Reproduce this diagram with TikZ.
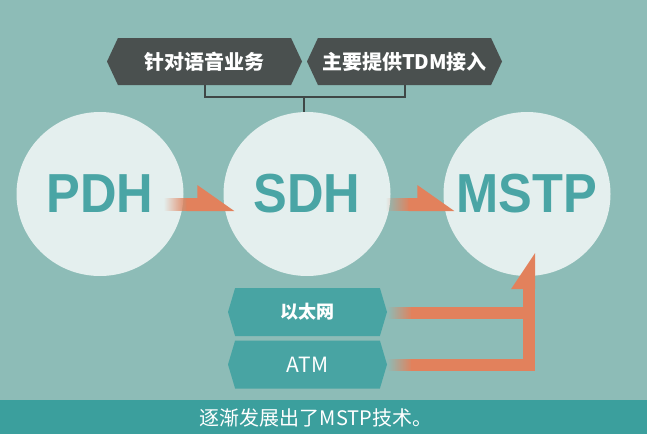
\documentclass[tikz,border=0pt]{standalone}
\usepackage{fontspec}
\newfontfamily\cjk{Noto Sans CJK SC}
\newfontfamily\bigsans{Liberation Sans}[FakeStretch=0.92]
\usetikzlibrary{shapes.symbols,shapes.geometric,fadings,calc}

\definecolor{bgteal}{HTML}{8DBCB7}
\definecolor{bandteal}{HTML}{3B9F9D}
\definecolor{darkbox}{HTML}{4A504F}
\definecolor{tealbox}{HTML}{48A4A3}
\definecolor{ballfill}{HTML}{E4EFEE}
\definecolor{balltext}{HTML}{4AA5A5}
\definecolor{orangebar}{HTML}{E2815C}
\definecolor{linkgray}{HTML}{3F4746}

\tikzfading[name=fadein, left color=transparent!100, right color=transparent!0]

\begin{document}
\begin{tikzpicture}[x=1pt, y=-1pt,
    ball/.style={ellipse, minimum width=167pt, minimum height=164pt, inner sep=0pt,
                 fill=ballfill,
                 label={[text=balltext, font=\bigsans\bfseries\fontsize{55}{55}\selectfont]center:#1}},
    topbox/.style={signal, signal to=east and west, signal pointer angle=130,
                   minimum width=195pt, minimum height=47pt, inner sep=0pt,
                   fill=darkbox, text=white, font=\cjk\bfseries\fontsize{20}{20}\selectfont},
    netbox/.style={topbox, signal pointer angle=147, minimum width=159pt, minimum height=48pt,
                   fill=tealbox, font=\cjk\bfseries\fontsize{18}{18}\selectfont},
    note/.style={text=white, font=\cjk\fontsize{20}{20}\selectfont},
    link/.style={draw=linkgray, line width=2pt},
    bar/.style={draw=orangebar, line width=12pt},
    fadebar/.style={fill=orangebar, path fading=fadein}]

% background and bottom band
\fill[bgteal] (0,0) rectangle (647,434);
\fill[bandteal] (0,400) rectangle (647,434);

% the three stages
\node[ball=PDH]  (pdh)  at (100,194) {};
\node[ball=SDH]  (sdh)  at (307,194) {};
\node[ball=MSTP] (mstp) at (527,194) {};

% labels on top
\node[topbox] (voice) at (204.5,61.5) {针对语音业务};
\node[topbox] (tdm)   at (404.5,61.5) {主要提供TDM接入};
\coordinate (hub) at (304,97);
\draw[link] (voice.south) |- (hub) -| (tdm.south);
\draw[link] (hub) -- (hub |- sdh.north);

% arrows between stages
\foreach \a/\b/\o in {pdh/sdh/20, sdh/mstp/5}{
  \coordinate (s) at ($(\a.east)+(-\o,17)$);
  \coordinate (t) at ($(\b.west)+(11,17)$);
  \fill[fadebar] (s) rectangle ($(s)+(24,-13)$);
  \fill[orangebar] ($(s)+(23,0)$) -- ($(s)+(23,-13)$) -- ($(t)+(-37,-13)$)
      -- ($(t)+(-37,-26)$) -- (t) -- cycle;
}

% ethernet and ATM feeding MSTP
\node[netbox] (eth) at (307.5,312) {以太网};
\node[netbox, font=\cjk\fontsize{21}{21}\selectfont] (atm) at (307.5,364.5) {ATM};
\coordinate (tip) at ($(mstp.south)+(8,-23)$);
\fill[fadebar] ($(eth.east)+(0,-5)$) rectangle ($(eth.east)+(25,7)$);
\fill[fadebar] ($(atm.east)+(0,-5.5)$) rectangle ($(atm.east)+(25,6.5)$);
\draw[bar] ($(eth.east)+(24,1)$) -- ($(eth.east -| tip)+(-6,1)$);
\draw[bar] ($(atm.east)+(24,0.5)$) -| ($(tip)+(-6,36)$);
\fill[orangebar] ($(tip)+(-24,36)$) -- (tip) -- ($(tip)+(0,36)$) -- cycle;

\node[note] (text) at (316,418) {逐渐发展出了MSTP技术。};
\end{tikzpicture}
\end{document}
